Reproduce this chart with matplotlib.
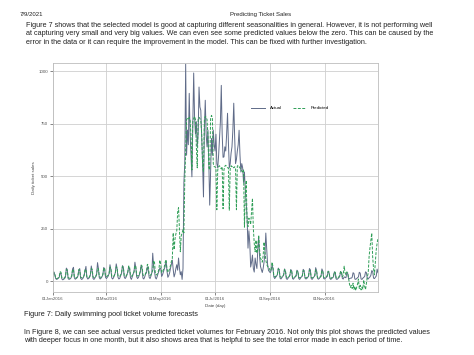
import numpy as np
import pandas as pd
import matplotlib
matplotlib.use('Agg')
import matplotlib.pyplot as plt
import matplotlib.dates as mdates

plt.rcParams['font.family'] = ['Liberation Sans', 'DejaVu Sans']

# daily ticket sales 2016
act_jan = [35, 44, 30, 12, 8, 10, 14, 18, 40, 36, 10, 6, 9, 12, 20, 62, 55, 12, 8, 10, 14, 22, 58, 66, 15, 9, 12, 16, 24, 52, 60]
act_feb = [14, 8, 10, 16, 28, 50, 70, 20, 10, 12, 18, 30, 72, 48, 12, 8, 14, 22, 34, 88, 60, 16, 10, 14, 20, 30, 65, 58, 18]
act_mar = [12, 18, 24, 36, 78, 55, 15, 10, 16, 28, 40, 82, 60, 18, 10, 14, 26, 38, 74, 66, 20, 12, 18, 30, 44, 70, 58, 16, 8, 20, 34]
act_apr = [45, 90, 62, 20, 12, 18, 30, 44, 76, 58, 14, 10, 20, 34, 40, 68, 52, 18, 12, 24, 40, 133, 70, 46, 16, 10, 22, 36, 48, 62]
act_may = [60, 22, 30, 44, 58, 70, 96, 48, 18, 26, 40, 62, 80, 100, 55, 20, 35, 60, 78, 52, 110, 62, 30, 45, 8, 60, 470, 560, 1035, 600, 720]
act_jun = [650, 895, 700, 600, 497, 760, 992, 780, 700, 760, 640, 700, 925, 830, 814, 690, 560, 401, 720, 862, 700, 640, 720, 560, 362, 520, 680, 600, 720, 650]
act_jul = [620, 700, 560, 540, 600, 680, 760, 933, 700, 590, 592, 640, 620, 700, 800, 660, 540, 560, 610, 640, 720, 848, 690, 560, 580, 620, 650, 719, 600, 520, 560]
act_aug = [540, 470, 520, 430, 371, 300, 157, 240, 180, 67, 90, 124, 60, 43, 110, 80, 60, 150, 211, 120, 70, 55, 41, 60, 90, 130, 229, 150, 80, 51, 45]
act_sep = [40, 50, 76, 60, 20, 12, 18, 24, 30, 62, 55, 14, 10, 16, 22, 28, 58, 48, 12, 8, 14, 20, 26, 55, 50, 12, 9, 15, 20, 24]
act_oct = [52, 46, 12, 8, 14, 20, 24, 56, 50, 14, 10, 12, 18, 22, 60, 54, 12, 8, 14, 20, 26, 64, 50, 14, 9, 12, 18, 22, 58, 48, 12]
act_nov = [10, 14, 18, 22, 48, 40, 12, 8, 12, 16, 20, 44, 38, 10, 8, 12, 16, 22, 46, 40, 12, 10, 20, 18, 16, 40, 36, 10, 12, 14]
act_dec = [14, 18, 40, 36, 10, 8, 12, 16, 20, 42, 38, 10, 8, 14, 18, 22, 44, 40, 12, 10, 16, 20, 28, 50, 46, 14, 12, 18, 24, 57, 40]

pred_jan = [30, 40, 36, 14, 12, 13, 16, 22, 45, 42, 15, 12, 13, 16, 24, 55, 52, 17, 14, 14, 17, 25, 56, 54, 18, 15, 15, 18, 26, 55, 53]
pred_feb = [20, 16, 16, 19, 28, 56, 54, 20, 17, 17, 20, 30, 60, 56, 20, 17, 18, 21, 32, 62, 58, 21, 18, 19, 22, 33, 63, 60, 22]
pred_mar = [22, 24, 28, 36, 66, 62, 24, 20, 22, 28, 38, 68, 64, 25, 21, 23, 29, 40, 70, 66, 26, 22, 24, 30, 42, 72, 68, 27, 23, 26, 32]
pred_apr = [44, 74, 70, 28, 24, 27, 34, 46, 76, 72, 30, 26, 29, 36, 48, 80, 75, 32, 27, 30, 38, 52, 98, 90, 34, 29, 33, 42, 58, 100]
pred_may = [80, 40, 45, 55, 68, 90, 102, 58, 42, 48, 60, 75, 95, 108, 230, 150, 200, 225, 240, 330, 350, 240, 140, 215, 230, 245, 230, 480, 620, 770, 775]
pred_jun = [770, 780, 765, 690, 530, 760, 775, 785, 770, 640, 540, 770, 780, 775, 765, 700, 560, 520, 770, 785, 780, 770, 690, 540, 530, 775, 790, 780, 560, 545]
pred_jul = [545, 540, 340, 530, 545, 550, 540, 535, 545, 345, 530, 548, 552, 545, 540, 540, 338, 535, 550, 545, 548, 540, 545, 540, 340, 548, 552, 545, 540, 530, 525]
pred_aug = [520, 530, 257, 420, 480, 280, 260, 300, 290, 270, 330, 395, 250, 180, 140, 195, 133, 160, 219, 150, 110, 100, 90, 120, 186, 140, 100, 80, 70, 65, 60]
pred_sep = [48, 58, 90, 70, 26, 20, 22, 26, 34, 58, 55, 22, 18, 20, 24, 30, 55, 52, 20, 16, 18, 22, 28, 52, 50, 18, 15, 18, 22, 26]
pred_oct = [48, 46, 18, 15, 18, 22, 26, 50, 48, 18, 15, 17, 21, 26, 52, 50, 18, 15, 17, 21, 26, 54, 50, 18, 14, 16, 20, 25, 50, 48, 17]
pred_nov = [16, 18, 22, 26, 46, 44, 16, 13, 16, 20, 24, 44, 42, 15, 13, 16, 20, 28, 48, 44, 20, 30, 71, 40, 30, 44, 40, 12, -15, -30]
pred_dec = [-20, -35, -10, -40, -25, -45, -30, -15, 10, -35, -20, -42, -28, -38, 5, -25, -40, -10, 20, 38, 116, 160, 195, 229, 116, 60, 30, 90, 148, 180, 205]

actual = (act_jan + act_feb + act_mar + act_apr + act_may + act_jun +
          act_jul + act_aug + act_sep + act_oct + act_nov + act_dec)
predicted = (pred_jan + pred_feb + pred_mar + pred_apr + pred_may + pred_jun +
             pred_jul + pred_aug + pred_sep + pred_oct + pred_nov + pred_dec)
dates = pd.date_range('2016-01-01', '2016-12-31', freq='D')

header_date = '7/9/2021'
header_title = 'Predicting Ticket Sales'
para_top = [
    'Figure 7 shows that the selected model is good at capturing different seasonalities in general. However, it is not performing well',
    'at capturing very small and very big values. We can even see some predicted values below the zero. This can be caused by the',
    'error in the data or it can require the improvement in the model. This can be fixed with further investigation.',
]
caption = 'Figure 7: Daily swimming pool ticket volume forecasts'
para_bottom = [
    'In Figure 8, we can see actual versus predicted ticket volumes for February 2016. Not only this plot shows the predicted values',
    'with deeper focus in one month, but it also shows area that is helpful to see the total error made in each period of time.',
]

W, H = 474, 355
fig = plt.figure(figsize=(W / 100, H / 100), dpi=100)


def px(x, y):
    return x / W, 1 - y / H


txt = '#222222'
fig.text(*px(20, 14.5), header_date, fontsize=4.3, color=txt, va='center')
fig.text(*px(261, 14.5), header_title, fontsize=4.3, color=txt, va='center', ha='center')
for line, y in zip(para_top, [25.5, 33.8, 42.0]):
    fig.text(*px(26, y), line, fontsize=5.2, color=txt, va='center')
fig.text(*px(24, 315), caption, fontsize=5.3, color=txt, va='center')
for line, y in zip(para_bottom, [332.3, 340.8]):
    fig.text(*px(24, y), line, fontsize=5.25, color=txt, va='center')

ax = fig.add_axes([53 / W, 1 - 292 / H, (378 - 53) / W, (292 - 62.5) / H])
ax.plot(dates, actual, color='#5f6b88', lw=0.7, label='Actual')
ax.plot(dates, predicted, color='#2f9e57', lw=0.7, ls=(0, (3, 1.5)), label='Predicted')

ax.set_xlim(dates[0], dates[-1])
ax.set_ylim(-52, 1042)
ax.set_yticks([0, 250, 500, 750, 1000])
ax.xaxis.set_major_locator(mdates.MonthLocator(bymonth=[1, 3, 5, 7, 9, 11]))
ax.xaxis.set_major_formatter(mdates.DateFormatter('%d%b%Y'))
ax.grid(True, color='#cfcfcf', lw=0.6)
ax.set_axisbelow(True)
for s in ax.spines.values():
    s.set_color('#bdbdbd')
    s.set_linewidth(0.6)
ax.tick_params(labelsize=3.2, colors='#555555', length=2, width=0.5, pad=1.5)
ax.set_xlabel('Date (day)', fontsize=3.2, color='#444444')
ax.set_ylabel('Daily ticket sales', fontsize=3.2, color='#444444')
ax.xaxis.set_label_coords(0.5, -0.052)
ax.yaxis.set_label_coords(-0.052, 0.5)

ax.legend(loc='center', bbox_to_anchor=(0.73, 0.80), ncol=2, frameon=False,
          fontsize=3.2, handlelength=3, handletextpad=1.2, columnspacing=2.4)

fig.savefig('out.png', dpi=100)
